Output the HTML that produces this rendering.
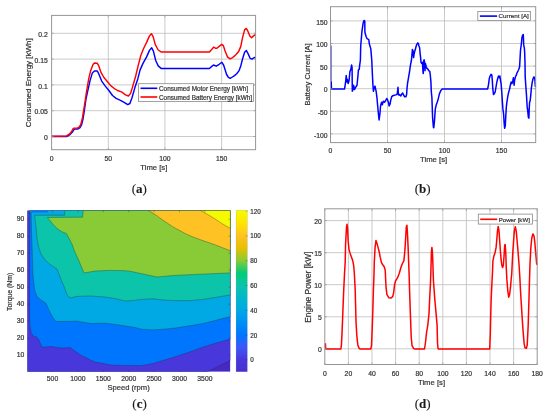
<!DOCTYPE html><html><head><meta charset="utf-8"><style>html,body{margin:0;padding:0;background:#fff;width:550px;height:415px;overflow:hidden}svg{display:block}text{stroke:#333;stroke-width:0.2px}text.cap{stroke:#1a1a1a;stroke-width:0.1px}</style></head><body><svg width="550" height="415" viewBox="0 0 550 415" font-family="Liberation Sans, Arial, sans-serif" fill="#333">
<line x1="108.3" y1="15.4" x2="108.3" y2="149.7" stroke="#c0c0c0" stroke-width="0.85"/>
<line x1="164.9" y1="15.4" x2="164.9" y2="149.7" stroke="#c0c0c0" stroke-width="0.85"/>
<line x1="221.6" y1="15.4" x2="221.6" y2="149.7" stroke="#c0c0c0" stroke-width="0.85"/>
<line x1="51.6" y1="136.5" x2="255.6" y2="136.5" stroke="#c0c0c0" stroke-width="0.85"/>
<line x1="51.6" y1="110.7" x2="255.6" y2="110.7" stroke="#c0c0c0" stroke-width="0.85"/>
<line x1="51.6" y1="84.9" x2="255.6" y2="84.9" stroke="#c0c0c0" stroke-width="0.85"/>
<line x1="51.6" y1="59.1" x2="255.6" y2="59.1" stroke="#c0c0c0" stroke-width="0.85"/>
<line x1="51.6" y1="33.3" x2="255.6" y2="33.3" stroke="#c0c0c0" stroke-width="0.85"/>
<polyline points="52.0,136.4 67.0,136.4 70.0,134.6 72.0,132.6 74.0,129.6 75.0,129.0 78.0,129.0 80.0,127.6 81.5,125.0 83.0,119.0 84.0,113.0 85.0,106.0 86.0,99.0 87.2,93.4 90.1,80.4 92.3,73.1 94.5,71.0 97.3,71.0 98.8,73.9 101.7,81.1 105.3,86.1 108.9,90.5 112.5,95.5 116.1,98.4 120.5,100.3 124.1,102.3 127.7,104.6 129.9,103.5 132.0,97.7 134.9,87.6 137.8,78.9 140.1,69.9 143.0,63.4 146.6,56.9 149.5,50.4 151.7,47.8 153.4,51.1 155.7,60.5 158.2,65.9 161.1,68.4 209.4,68.5 212.1,66.1 213.6,65.0 216.2,66.2 219.2,64.3 221.8,62.3 223.6,65.0 225.1,69.8 226.6,74.5 228.4,77.4 230.2,78.3 232.4,77.0 234.5,75.6 236.7,73.8 238.9,70.9 240.6,66.6 242.6,58.8 244.6,52.3 246.3,50.4 248.3,54.1 250.1,58.3 252.0,59.1 253.5,58.0 255.8,57.1" fill="none" stroke="#0000ff" stroke-width="1.45" stroke-linejoin="round"/>
<polyline points="52.0,136.2 66.3,136.1 69.2,134.2 71.1,132.3 73.0,128.9 74.0,128.1 77.3,128.1 79.3,126.8 80.7,124.6 82.2,119.3 83.1,113.5 84.1,107.7 85.3,100.0 85.8,96.4 86.8,90.0 88.7,78.9 90.8,70.2 93.0,64.5 94.5,63.0 97.3,63.3 98.8,65.9 101.0,72.4 103.9,77.5 107.5,81.8 110.4,85.4 114.0,88.3 117.6,90.5 121.9,92.2 125.5,94.8 128.4,96.0 130.6,93.4 132.8,86.1 135.7,76.0 138.0,66.3 140.8,55.4 143.7,48.2 146.6,42.4 149.5,35.9 151.4,33.7 153.1,36.6 155.3,44.6 158.2,50.0 161.1,51.9 209.4,52.0 211.7,49.5 213.6,47.1 215.4,48.2 216.9,48.2 219.2,46.4 221.7,44.4 223.3,45.6 225.1,50.9 227.4,56.8 230.1,58.8 232.6,57.6 235.6,55.0 238.6,51.6 240.8,46.4 242.6,37.4 244.6,29.9 246.3,28.4 248.0,31.4 249.8,35.9 251.6,37.7 253.5,35.9 255.8,34.4" fill="none" stroke="#ff0000" stroke-width="1.45" stroke-linejoin="round"/>
<path d="M51.6 149.7v-2.0M51.6 15.4v2.0M108.3 149.7v-2.0M108.3 15.4v2.0M164.9 149.7v-2.0M164.9 15.4v2.0M221.6 149.7v-2.0M221.6 15.4v2.0M51.6 136.5h2.0M255.6 136.5h-2.0M51.6 110.7h2.0M255.6 110.7h-2.0M51.6 84.9h2.0M255.6 84.9h-2.0M51.6 59.1h2.0M255.6 59.1h-2.0M51.6 33.3h2.0M255.6 33.3h-2.0" stroke="#959595" stroke-width="0.7" fill="none"/>
<rect x="51.6" y="15.4" width="204.0" height="134.3" fill="none" stroke="#959595" stroke-width="1"/>
<text x="51.6" y="160.9" font-size="6.8" text-anchor="middle" >0</text>
<text x="108.3" y="160.9" font-size="6.8" text-anchor="middle" >50</text>
<text x="164.9" y="160.9" font-size="6.8" text-anchor="middle" >100</text>
<text x="221.6" y="160.9" font-size="6.8" text-anchor="middle" >150</text>
<text x="47.8" y="140.1" font-size="6.8" text-anchor="end" >0</text>
<text x="47.8" y="114.3" font-size="6.8" text-anchor="end" >0.05</text>
<text x="47.8" y="88.5" font-size="6.8" text-anchor="end" >0.1</text>
<text x="47.8" y="62.7" font-size="6.8" text-anchor="end" >0.15</text>
<text x="47.8" y="36.9" font-size="6.8" text-anchor="end" >0.2</text>
<text x="153.8" y="170.3" font-size="7.7" text-anchor="middle" >Time [s]</text>
<text transform="translate(30.5,82.7) rotate(-90)" font-size="8" text-anchor="middle">Consumed Energy [kWh]</text>
<rect x="138.5" y="83.7" width="115" height="17.8" fill="#fff" stroke="#8a8a8a" stroke-width="0.8"/>
<line x1="140.5" y1="88.3" x2="157.3" y2="88.3" stroke="#0000ff" stroke-width="1.6"/>
<line x1="140.5" y1="97" x2="157.3" y2="97" stroke="#ff0000" stroke-width="1.6"/>
<text x="159.0" y="90.6" font-size="6.4" text-anchor="start" fill="#333">Consumed Motor Energy [kWh]</text>
<text x="159.0" y="99.7" font-size="6.4" text-anchor="start" fill="#333">Consumed Battery Energy [kWh]</text>
<line x1="387.5" y1="6.7" x2="387.5" y2="142.6" stroke="#c0c0c0" stroke-width="0.85"/>
<line x1="444.5" y1="6.7" x2="444.5" y2="142.6" stroke="#c0c0c0" stroke-width="0.85"/>
<line x1="501.5" y1="6.7" x2="501.5" y2="142.6" stroke="#c0c0c0" stroke-width="0.85"/>
<line x1="330.5" y1="133.9" x2="535.7" y2="133.9" stroke="#c0c0c0" stroke-width="0.85"/>
<line x1="330.5" y1="111.3" x2="535.7" y2="111.3" stroke="#c0c0c0" stroke-width="0.85"/>
<line x1="330.5" y1="88.7" x2="535.7" y2="88.7" stroke="#c0c0c0" stroke-width="0.85"/>
<line x1="330.5" y1="66.1" x2="535.7" y2="66.1" stroke="#c0c0c0" stroke-width="0.85"/>
<line x1="330.5" y1="43.5" x2="535.7" y2="43.5" stroke="#c0c0c0" stroke-width="0.85"/>
<line x1="330.5" y1="20.9" x2="535.7" y2="20.9" stroke="#c0c0c0" stroke-width="0.85"/>
<line x1="331.1" y1="45.5" x2="331.1" y2="82" stroke="#0000ff" stroke-width="1.2" stroke-opacity="0.7"/>
<polyline points="331.2,81.5 331.5,89.0 344.5,89.0 344.9,87.0 345.7,81.1 346.2,75.5 346.9,81.9 347.4,79.4 348.2,83.6 349.1,80.2 349.9,71.8 350.8,69.3 351.6,65.1 352.1,67.6 352.3,91.2 353.0,89.5 353.6,85.3 354.6,89.5 355.8,87.0 357.0,85.3 358.0,75.2 358.4,70.1 359.2,69.3 359.7,65.1 360.4,60.0 360.7,46.2 361.9,31.7 363.1,23.3 364.0,20.4 364.8,21.0 364.9,32.3 366.0,36.2 367.1,38.7 368.8,39.6 369.3,43.8 370.8,48.9 371.8,60.7 372.2,70.1 372.5,76.9 373.0,86.0 373.4,91.2 374.3,87.5 375.0,86.1 376.1,91.2 376.9,97.1 377.8,107.2 378.6,115.7 379.1,119.9 379.9,114.0 380.6,105.5 381.6,102.2 382.3,104.7 383.3,101.3 384.5,102.2 385.7,100.5 386.7,98.5 387.4,99.6 388.4,102.2 389.1,105.9 390.1,103.9 390.7,100.4 391.7,96.7 392.9,95.7 394.3,95.3 395.8,94.9 397.2,94.3 398.0,87.3 398.4,93.9 399.0,95.3 399.8,94.6 400.8,96.0 401.9,93.9 402.7,93.1 403.7,95.3 404.7,96.7 405.9,96.7 406.6,94.6 407.1,87.3 407.6,83.0 408.1,80.1 408.8,75.8 409.5,72.0 410.5,64.8 411.4,60.5 412.0,54.7 412.4,49.6 413.1,51.1 413.6,57.6 414.0,54.7 414.6,51.8 415.3,49.6 416.0,46.7 416.7,44.6 417.8,42.8 418.5,43.9 418.9,46.0 419.6,47.5 420.1,53.3 420.6,57.6 421.1,62.6 421.8,63.4 422.5,62.6 423.0,72.0 423.3,73.5 423.5,61.9 424.1,59.8 424.7,62.6 425.0,70.6 425.4,63.4 426.1,66.3 426.9,68.4 427.9,69.2 428.7,70.6 429.8,71.3 430.2,74.3 430.9,81.6 431.3,91.7 431.9,97.5 432.2,106.1 432.6,117.7 433.4,127.1 433.8,127.8 434.5,120.6 435.3,109.0 436.3,104.7 437.4,101.8 438.4,98.2 439.4,93.9 440.6,91.0 442.0,89.1 443.5,89.0 487.6,89.0 488.4,85.3 489.3,78.5 490.1,76.0 491.0,74.3 491.8,74.8 492.3,80.2 492.8,88.7 493.5,94.6 494.3,93.7 495.2,92.0 496.0,87.0 496.9,81.9 497.7,78.5 498.5,76.0 499.4,77.7 499.9,76.0 500.6,81.1 501.1,83.6 501.9,93.7 502.4,102.2 502.9,108.9 503.6,114.0 504.1,122.4 504.6,128.3 505.3,125.8 505.8,115.6 506.3,107.2 507.0,101.3 507.8,96.3 508.7,92.0 509.5,89.5 510.3,85.3 511.2,81.9 512.0,83.6 512.9,80.2 513.4,77.7 514.1,85.3 514.6,80.2 515.4,76.9 516.3,75.2 517.1,72.6 518.0,71.0 518.8,69.3 519.6,66.7 520.5,50.5 521.4,43.5 521.9,38.0 522.6,35.2 523.3,34.5 523.7,44.9 524.4,48.4 524.7,53.3 525.0,63.1 525.2,76.9 525.9,87.0 526.5,95.4 527.2,107.2 527.7,110.6 528.4,117.3 528.9,118.2 529.2,108.9 529.6,102.2 530.2,100.5 530.9,93.7 531.4,87.8 532.3,81.9 533.1,78.5 534.0,76.9 534.8,78.5 535.4,87.0" fill="none" stroke="#0000ff" stroke-width="1.5" stroke-linejoin="round"/>
<path d="M330.5 142.6v-2.0M330.5 6.7v2.0M387.5 142.6v-2.0M387.5 6.7v2.0M444.5 142.6v-2.0M444.5 6.7v2.0M501.5 142.6v-2.0M501.5 6.7v2.0M330.5 133.9h2.0M535.7 133.9h-2.0M330.5 111.3h2.0M535.7 111.3h-2.0M330.5 88.7h2.0M535.7 88.7h-2.0M330.5 66.1h2.0M535.7 66.1h-2.0M330.5 43.5h2.0M535.7 43.5h-2.0M330.5 20.9h2.0M535.7 20.9h-2.0" stroke="#959595" stroke-width="0.7" fill="none"/>
<rect x="330.5" y="6.7" width="205.2" height="135.9" fill="none" stroke="#959595" stroke-width="1"/>
<text x="330.5" y="153.4" font-size="6.8" text-anchor="middle" >0</text>
<text x="387.5" y="153.4" font-size="6.8" text-anchor="middle" >50</text>
<text x="444.5" y="153.4" font-size="6.8" text-anchor="middle" >100</text>
<text x="501.5" y="153.4" font-size="6.8" text-anchor="middle" >150</text>
<text x="327.6" y="137.5" font-size="6.8" text-anchor="end" >-100</text>
<text x="327.6" y="114.9" font-size="6.8" text-anchor="end" >-50</text>
<text x="327.6" y="92.3" font-size="6.8" text-anchor="end" >0</text>
<text x="327.6" y="69.7" font-size="6.8" text-anchor="end" >50</text>
<text x="327.6" y="47.1" font-size="6.8" text-anchor="end" >100</text>
<text x="327.6" y="24.5" font-size="6.8" text-anchor="end" >150</text>
<text x="433.6" y="161.6" font-size="7.7" text-anchor="middle" >Time [s]</text>
<text transform="translate(309.9,74.4) rotate(-90)" font-size="7.5" text-anchor="middle">Battery Current [A]</text>
<rect x="477.8" y="11.5" width="52.7" height="9" fill="#fff" stroke="#8a8a8a" stroke-width="0.8"/>
<line x1="479.9" y1="16.1" x2="497.1" y2="16.1" stroke="#0000ff" stroke-width="1.6"/>
<text x="498.6" y="18.3" font-size="6.25" text-anchor="start" fill="#333">Current [A]</text>
<line x1="348.4" y1="208.8" x2="348.4" y2="364.5" stroke="#c0c0c0" stroke-width="0.85"/>
<line x1="372.0" y1="208.8" x2="372.0" y2="364.5" stroke="#c0c0c0" stroke-width="0.85"/>
<line x1="395.6" y1="208.8" x2="395.6" y2="364.5" stroke="#c0c0c0" stroke-width="0.85"/>
<line x1="419.2" y1="208.8" x2="419.2" y2="364.5" stroke="#c0c0c0" stroke-width="0.85"/>
<line x1="442.8" y1="208.8" x2="442.8" y2="364.5" stroke="#c0c0c0" stroke-width="0.85"/>
<line x1="466.4" y1="208.8" x2="466.4" y2="364.5" stroke="#c0c0c0" stroke-width="0.85"/>
<line x1="490.0" y1="208.8" x2="490.0" y2="364.5" stroke="#c0c0c0" stroke-width="0.85"/>
<line x1="513.6" y1="208.8" x2="513.6" y2="364.5" stroke="#c0c0c0" stroke-width="0.85"/>
<line x1="324.8" y1="348.8" x2="537.2" y2="348.8" stroke="#c0c0c0" stroke-width="0.85"/>
<line x1="324.8" y1="316.8" x2="537.2" y2="316.8" stroke="#c0c0c0" stroke-width="0.85"/>
<line x1="324.8" y1="284.7" x2="537.2" y2="284.7" stroke="#c0c0c0" stroke-width="0.85"/>
<line x1="324.8" y1="252.7" x2="537.2" y2="252.7" stroke="#c0c0c0" stroke-width="0.85"/>
<line x1="324.8" y1="220.6" x2="537.2" y2="220.6" stroke="#c0c0c0" stroke-width="0.85"/>
<polyline points="325.4,343.2 325.7,349.0 340.8,349.0 341.4,345.7 342.1,331.4 342.9,310.9 343.7,290.5 344.5,274.1 345.2,262.0 345.6,243.7 346.5,226.9 347.0,224.3 347.6,228.6 348.1,240.4 349.0,249.6 350.3,253.9 351.5,257.2 352.7,260.6 353.7,265.7 354.4,274.1 355.2,290.0 356.0,321.2 356.8,335.5 357.8,344.7 358.8,347.8 359.9,349.0 370.7,349.0 371.5,345.7 372.1,331.4 372.8,310.9 373.4,290.5 374.0,274.1 374.3,262.0 375.1,247.1 376.0,240.4 376.8,242.9 378.0,247.1 379.3,252.2 380.2,257.2 381.4,262.3 382.7,264.8 384.1,266.5 385.2,270.0 386.0,286.6 386.9,294.3 388.9,297.8 390.8,298.1 392.7,296.6 393.7,292.4 394.6,284.6 395.6,280.8 397.5,277.9 399.3,273.2 401.0,267.3 402.2,264.0 403.9,260.6 404.9,250.5 405.6,238.7 406.3,226.9 406.9,225.2 407.4,231.9 408.1,247.1 408.6,260.6 409.1,274.1 409.7,294.3 410.5,317.4 411.2,336.7 412.0,345.4 413.5,348.3 414.5,349.0 424.5,349.0 425.5,342.5 426.5,332.8 427.8,325.1 429.0,313.6 429.7,298.1 430.5,282.7 431.1,264.0 431.4,252.2 431.9,247.4 432.4,252.2 432.9,264.0 433.4,280.0 434.7,298.1 436.1,313.6 437.1,325.1 437.5,342.5 438.0,348.3 438.5,349.0 489.7,349.0 490.3,334.2 490.7,316.1 491.2,298.1 491.9,283.6 492.5,272.0 492.9,261.1 493.9,256.1 495.1,252.5 496.1,247.4 496.8,239.5 497.5,230.8 498.2,226.4 499.0,230.8 499.7,240.9 500.4,251.0 501.1,259.7 501.9,265.5 502.6,267.6 503.3,265.5 504.0,256.8 504.7,245.2 505.2,244.5 505.8,253.9 506.3,268.4 506.9,279.9 507.8,290.8 508.7,297.2 509.6,294.5 510.5,287.2 511.1,280.0 511.7,274.2 512.7,253.9 513.7,239.5 514.4,230.8 515.3,226.7 516.2,230.8 517.0,239.5 518.0,251.0 519.1,265.5 519.9,278.5 520.5,290.8 521.4,305.3 522.3,319.8 523.2,332.4 524.1,343.3 525.0,347.8 526.4,348.3 527.2,345.1 528.2,325.2 529.0,298.1 529.5,280.0 530.0,264.0 530.8,248.1 531.8,238.0 532.9,234.0 534.0,235.8 534.8,242.3 535.8,253.9 536.6,263.3 537.0,264.8" fill="none" stroke="#ff0000" stroke-width="1.5" stroke-linejoin="round"/>
<path d="M324.8 364.5v-2.0M324.8 208.8v2.0M348.4 364.5v-2.0M348.4 208.8v2.0M372.0 364.5v-2.0M372.0 208.8v2.0M395.6 364.5v-2.0M395.6 208.8v2.0M419.2 364.5v-2.0M419.2 208.8v2.0M442.8 364.5v-2.0M442.8 208.8v2.0M466.4 364.5v-2.0M466.4 208.8v2.0M490.0 364.5v-2.0M490.0 208.8v2.0M513.6 364.5v-2.0M513.6 208.8v2.0M537.2 364.5v-2.0M537.2 208.8v2.0M324.8 348.8h2.0M537.2 348.8h-2.0M324.8 316.8h2.0M537.2 316.8h-2.0M324.8 284.7h2.0M537.2 284.7h-2.0M324.8 252.7h2.0M537.2 252.7h-2.0M324.8 220.6h2.0M537.2 220.6h-2.0" stroke="#959595" stroke-width="0.7" fill="none"/>
<rect x="324.8" y="208.8" width="212.4" height="155.7" fill="none" stroke="#959595" stroke-width="1"/>
<text x="324.8" y="375.8" font-size="6.8" text-anchor="middle" >0</text>
<text x="348.4" y="375.8" font-size="6.8" text-anchor="middle" >20</text>
<text x="372.0" y="375.8" font-size="6.8" text-anchor="middle" >40</text>
<text x="395.6" y="375.8" font-size="6.8" text-anchor="middle" >60</text>
<text x="419.2" y="375.8" font-size="6.8" text-anchor="middle" >80</text>
<text x="442.8" y="375.8" font-size="6.8" text-anchor="middle" >100</text>
<text x="466.4" y="375.8" font-size="6.8" text-anchor="middle" >120</text>
<text x="490.0" y="375.8" font-size="6.8" text-anchor="middle" >140</text>
<text x="513.6" y="375.8" font-size="6.8" text-anchor="middle" >160</text>
<text x="537.2" y="375.8" font-size="6.8" text-anchor="middle" >180</text>
<text x="321.8" y="352.4" font-size="6.8" text-anchor="end" >0</text>
<text x="321.8" y="320.4" font-size="6.8" text-anchor="end" >5</text>
<text x="321.8" y="288.3" font-size="6.8" text-anchor="end" >10</text>
<text x="321.8" y="256.3" font-size="6.8" text-anchor="end" >15</text>
<text x="321.8" y="224.2" font-size="6.8" text-anchor="end" >20</text>
<text x="431.5" y="385.4" font-size="7.7" text-anchor="middle" >Time [s]</text>
<text transform="translate(311.4,287.2) rotate(-90)" font-size="8.4" text-anchor="middle">Engine Power [kW]</text>
<rect x="478.3" y="214.1" width="54.2" height="10" fill="#fff" stroke="#8a8a8a" stroke-width="0.8"/>
<line x1="480.2" y1="219.3" x2="497.3" y2="219.3" stroke="#ff0000" stroke-width="1.6"/>
<text x="498.7" y="221.5" font-size="6.1" text-anchor="start" fill="#333">Power [kW]</text>
<defs><clipPath id="cc"><rect x="27.3" y="210.4" width="203.1" height="161.4"/></clipPath><linearGradient id="cbg" x1="0" y1="0" x2="0" y2="1"><stop offset="0.000" stop-color="#f8fa10"/><stop offset="0.006" stop-color="#f6fa00"/><stop offset="0.082" stop-color="#ffe400"/><stop offset="0.159" stop-color="#ffc224"/><stop offset="0.235" stop-color="#e8c000"/><stop offset="0.312" stop-color="#88cb36"/><stop offset="0.389" stop-color="#00cc78"/><stop offset="0.465" stop-color="#0cc4aa"/><stop offset="0.542" stop-color="#00b8cc"/><stop offset="0.619" stop-color="#00a8e4"/><stop offset="0.695" stop-color="#0090f4"/><stop offset="0.772" stop-color="#0076ff"/><stop offset="0.848" stop-color="#3c58f8"/><stop offset="0.925" stop-color="#4838dc"/><stop offset="0.999" stop-color="#4830d0"/></linearGradient></defs>
<g clip-path="url(#cc)">
<rect x="27.3" y="210.4" width="203.1" height="161.4" fill="#4628c4"/>
<polygon points="27.3,210.4 230.4,210.4 230.4,360.3 216.9,366.9 207.8,371.8 27.3,371.8" fill="#4838dc" stroke="#203030" stroke-width="0.5" stroke-opacity="0.7"/>
<polygon points="29.6,210.4 230.4,210.4 230.4,339.0 216.9,342.8 203.2,347.0 189.5,352.1 175.8,356.6 164.3,360.1 152.9,363.5 141.4,365.6 129.1,365.5 111.6,365.1 94.2,361.8 81.1,355.3 70.2,347.6 61.5,348.1 51.6,346.5 41.8,347.2 40.5,343.8 38.7,339.6 36.2,336.6 34.1,337.0 31.2,332.7 29.8,325.4 29.6,300.0" fill="#0076ff" stroke="#203030" stroke-width="0.5" stroke-opacity="0.7"/>
<polygon points="29.6,210.4 47.8,210.4 47.8,210.4 230.4,210.4 230.4,316.6 216.9,320.0 203.2,323.5 189.5,325.8 175.8,328.0 164.3,329.2 152.9,329.9 141.4,329.2 135.0,327.5 119.0,325.0 105.0,323.2 91.0,323.6 77.0,321.2 65.0,321.4 55.8,321.5 52.9,317.5 50.0,312.4 47.8,307.4 45.7,303.0 41.3,300.2 37.0,296.6 34.8,290.8 34.1,285.0 33.0,276.0 32.2,250.0 31.4,230.0 31.1,212.6 29.6,212.6" fill="#00a8e4" stroke="#203030" stroke-width="0.5" stroke-opacity="0.7"/>
<polygon points="29.6,210.4 47.8,210.4 47.8,212.5 31.1,212.5 31.1,210.4" fill="#0076ff"/>
<polygon points="34.7,215.2 64.5,215.2 64.8,210.4 230.4,210.4 230.4,294.9 216.9,297.2 203.2,299.4 189.5,300.6 175.8,300.6 164.3,300.1 152.9,298.8 141.4,299.4 135.0,300.4 125.0,301.0 117.0,299.0 105.0,297.0 91.0,296.0 77.0,296.4 70.0,298.0 66.9,294.5 64.0,286.3 61.5,280.5 58.7,273.3 56.9,269.0 53.6,266.8 49.3,263.9 44.2,258.9 40.6,253.1 38.4,245.9 37.0,238.7 36.3,230.0 35.2,220.0" fill="#0cc4aa" stroke="#203030" stroke-width="0.5" stroke-opacity="0.7"/>
<polygon points="47.5,217.5 82.6,217.2 83.2,210.4 230.4,210.4 230.4,272.9 216.8,273.5 195.1,274.4 173.4,275.5 157.1,277.0 143.0,274.0 130.0,271.2 122.6,270.6 109.0,270.4 95.0,271.0 84.0,273.0 79.0,261.0 74.0,250.0 72.2,244.5 69.3,238.8 66.4,233.5 62.5,232.0 57.7,229.1 52.9,224.3" fill="#88cb36" stroke="#203030" stroke-width="0.5" stroke-opacity="0.7"/>
<polygon points="148.4,210.4 230.4,210.4 230.4,250.8 224.0,248.3 218.2,246.0 213.0,244.1 207.3,242.1 200.0,239.6 192.0,236.6 185.0,233.4 178.9,230.1 173.0,226.9 168.0,223.5 162.0,219.5 157.1,215.9 152.0,212.6" fill="#ffc224" stroke="#203030" stroke-width="0.5" stroke-opacity="0.7"/>
<polygon points="200.5,210.4 230.4,210.4 230.4,228.3 226.0,226.0 221.8,223.4 217.0,220.2 212.4,217.3 208.0,214.7 204.0,212.3" fill="#f6fa00" stroke="#203030" stroke-width="0.5" stroke-opacity="0.7"/>
</g>
<path d="M52.5 371.8v-1.8M52.5 210.4v1.8M77.9 371.8v-1.8M77.9 210.4v1.8M103.3 371.8v-1.8M103.3 210.4v1.8M128.7 371.8v-1.8M128.7 210.4v1.8M154.1 371.8v-1.8M154.1 210.4v1.8M179.5 371.8v-1.8M179.5 210.4v1.8M204.9 371.8v-1.8M204.9 210.4v1.8M27.3 355.2h1.8M230.4 355.2h-1.8M27.3 338.2h1.8M230.4 338.2h-1.8M27.3 321.2h1.8M230.4 321.2h-1.8M27.3 304.2h1.8M230.4 304.2h-1.8M27.3 287.2h1.8M230.4 287.2h-1.8M27.3 270.2h1.8M230.4 270.2h-1.8M27.3 253.2h1.8M230.4 253.2h-1.8M27.3 236.2h1.8M230.4 236.2h-1.8M27.3 219.2h1.8M230.4 219.2h-1.8" stroke="#333" stroke-width="0.6" stroke-opacity="0.6" fill="none"/>
<text x="52.5" y="381.2" font-size="6.8" text-anchor="middle" >500</text>
<text x="77.9" y="381.2" font-size="6.8" text-anchor="middle" >1000</text>
<text x="103.3" y="381.2" font-size="6.8" text-anchor="middle" >1500</text>
<text x="128.7" y="381.2" font-size="6.8" text-anchor="middle" >2000</text>
<text x="154.1" y="381.2" font-size="6.8" text-anchor="middle" >2500</text>
<text x="179.5" y="381.2" font-size="6.8" text-anchor="middle" >3000</text>
<text x="204.9" y="381.2" font-size="6.8" text-anchor="middle" >3500</text>
<text x="24.2" y="357.4" font-size="6.8" text-anchor="end" >10</text>
<text x="24.2" y="340.4" font-size="6.8" text-anchor="end" >20</text>
<text x="24.2" y="323.4" font-size="6.8" text-anchor="end" >30</text>
<text x="24.2" y="306.4" font-size="6.8" text-anchor="end" >40</text>
<text x="24.2" y="289.4" font-size="6.8" text-anchor="end" >50</text>
<text x="24.2" y="272.4" font-size="6.8" text-anchor="end" >60</text>
<text x="24.2" y="255.4" font-size="6.8" text-anchor="end" >70</text>
<text x="24.2" y="238.4" font-size="6.8" text-anchor="end" >80</text>
<text x="24.2" y="221.4" font-size="6.8" text-anchor="end" >90</text>
<text x="128.6" y="390.0" font-size="7.6" text-anchor="middle" >Speed (rpm)</text>
<text transform="translate(11.9,291.8) rotate(-90)" font-size="6.9" text-anchor="middle">Torque (Nm)</text>
<rect x="236.1" y="210.2" width="11.2" height="161.5" fill="url(#cbg)" stroke="#000" stroke-opacity="0.15" stroke-width="0.6"/>
<text x="250.2" y="362.4" font-size="6.3" text-anchor="start" >0</text>
<text x="250.2" y="337.6" font-size="6.3" text-anchor="start" >20</text>
<text x="250.2" y="312.8" font-size="6.3" text-anchor="start" >40</text>
<text x="250.2" y="288.0" font-size="6.3" text-anchor="start" >60</text>
<text x="250.2" y="263.2" font-size="6.3" text-anchor="start" >80</text>
<text x="250.2" y="238.4" font-size="6.3" text-anchor="start" >100</text>
<text x="250.2" y="213.6" font-size="6.3" text-anchor="start" >120</text>
<path d="M247.5 359.9h-1.8M247.5 335.1h-1.8M247.5 310.3h-1.8M247.5 285.5h-1.8M247.5 260.7h-1.8M247.5 235.9h-1.8M247.5 211.1h-1.8" stroke="#333" stroke-width="0.6" stroke-opacity="0.6"/>
<text x="139.3" y="192.5" text-anchor="middle" class="cap" font-family="Liberation Serif, Times New Roman, serif" font-size="13" fill="#1a1a1a">(<tspan font-weight="bold">a</tspan>)</text>
<text x="422.7" y="192.5" text-anchor="middle" class="cap" font-family="Liberation Serif, Times New Roman, serif" font-size="13" fill="#1a1a1a">(<tspan font-weight="bold">b</tspan>)</text>
<text x="139.6" y="407.9" text-anchor="middle" class="cap" font-family="Liberation Serif, Times New Roman, serif" font-size="13" fill="#1a1a1a">(<tspan font-weight="bold">c</tspan>)</text>
<text x="422.7" y="407.9" text-anchor="middle" class="cap" font-family="Liberation Serif, Times New Roman, serif" font-size="13" fill="#1a1a1a">(<tspan font-weight="bold">d</tspan>)</text>
</svg></body></html>
